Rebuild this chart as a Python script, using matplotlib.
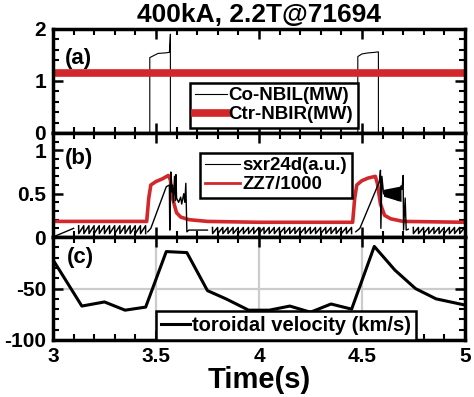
import matplotlib
matplotlib.use("Agg")
import matplotlib.pyplot as plt
from matplotlib.ticker import MultipleLocator

plt.rcParams['font.family'] = ['Liberation Sans', 'DejaVu Sans']
plt.rcParams['font.weight'] = 'bold'

RED = '#d3282b'

# (a) beam powers (MW)
nbil_t = [3.0, 3.47, 3.47, 3.49, 3.51, 3.545, 3.565, 3.57, 3.57, 4.48, 4.48, 4.50, 4.53, 4.56, 4.58, 4.58, 5.0]
nbil_p = [0, 0, 1.45, 1.49, 1.53, 1.54, 1.55, 1.90, 0, 0, 1.47, 1.52, 1.54, 1.55, 1.56, 0, 0]
nbir_t = [3.0, 5.0]
nbir_p = [1.15, 1.15]

# (b) ZZ7/1000
zz7_t = [3.0, 3.455, 3.465, 3.475, 3.50, 3.53, 3.56, 3.57, 3.58, 3.60, 3.62, 3.66, 3.75, 4.0, 4.2,
         4.455, 4.465, 4.475, 4.50, 4.53, 4.565, 4.575, 4.59, 4.61, 4.64, 4.70, 5.0]
zz7_v = [0.18, 0.18, 0.45, 0.60, 0.64, 0.67, 0.71, 0.66, 0.45, 0.28, 0.23, 0.20, 0.18, 0.17, 0.17,
         0.17, 0.45, 0.60, 0.65, 0.68, 0.70, 0.62, 0.38, 0.25, 0.21, 0.18, 0.17]

# (b) sxr24d, pulse segments
sxr_start_t = [3.0, 3.04, 3.08, 3.10]
sxr_start_v = [0.0, 0.04, 0.08, 0.10]
sxr_p1_t = [3.46, 3.475, 3.55, 3.565, 3.567, 3.572, 3.576, 3.58, 3.585, 3.59, 3.595, 3.597, 3.60,
            3.61, 3.62, 3.625, 3.635, 3.64, 3.645, 3.65, 3.66, 3.75]
sxr_p1_v = [0.06, 0.10, 0.58, 0.60, 0.08, 0.75, 0.52, 0.60, 0.40, 0.70, 0.42, 0.72, 0.45,
            0.40, 0.46, 0.38, 0.50, 0.40, 0.62, 0.06, 0.08, 0.08]
sxr_p2_t = [4.47, 4.49, 4.585, 4.59, 4.592, 4.597, 4.605, 4.62, 4.64, 4.66, 4.68, 4.69,
            4.695, 4.70, 4.702, 4.71, 4.715, 4.725]
sxr_p2_v = [0.06, 0.10, 0.64, 0.77, 0.10, 0.70, 0.50, 0.47, 0.46, 0.44, 0.42, 0.59,
            0.55, 0.71, 0.08, 0.45, 0.08, 0.09]
wedge_t = [4.605, 4.69]
wedge_lo = [0.47, 0.41]
wedge_hi = [0.55, 0.59]

# sawtooth crash times on sxr baseline
teeth1_t = [3.125, 3.15, 3.175, 3.20, 3.225, 3.25, 3.275, 3.30, 3.325, 3.35, 3.375, 3.40, 3.425, 3.45]
teeth2_t = [3.775, 3.80, 3.825, 3.85, 3.875, 3.90, 3.925, 3.95, 3.975, 4.00, 4.025, 4.05, 4.075,
            4.10, 4.125, 4.15, 4.175, 4.20, 4.225, 4.25, 4.275, 4.30, 4.325, 4.35, 4.375, 4.40,
            4.425, 4.45]
teeth3_t = [4.75, 4.775, 4.80, 4.825, 4.85, 4.875, 4.90, 4.925, 4.95, 4.975, 5.0]
teeth1_hi, teeth1_lo = 0.13, 0.04
teeth2_hi, teeth2_lo = 0.11, 0.04
teeth3_hi, teeth3_lo = 0.11, 0.04

# (c) toroidal velocity (km/s)
vt_t = [3.0, 3.14, 3.25, 3.35, 3.45, 3.55, 3.65, 3.75, 3.84, 3.95, 4.05, 4.15, 4.25, 4.35, 4.45,
        4.56, 4.66, 4.76, 4.86, 5.0]
vt_v = [-22, -67, -63, -71, -68, -14, -15, -52, -60, -71, -71, -67, -73, -65, -70,
        -9, -32, -50, -60, -66]


def teeth_trace(times, hi, lo):
    t, v = [], []
    for c in times:
        t += [c - 0.0005, c]
        v += [hi, lo]
    return t, v


def style_axes(ax):
    for s in ax.spines.values():
        s.set_linewidth(2.5)
    ax.xaxis.set_major_locator(MultipleLocator(0.5))
    ax.xaxis.set_minor_locator(MultipleLocator(0.1))
    ax.tick_params(which='both', direction='in', top=True, right=True, labelsize=15)
    ax.tick_params(which='major', length=7, width=1.8, pad=5)
    ax.tick_params(which='minor', length=4.5, width=1.5)
    ax.set_xlim(3, 5)


fig = plt.figure(figsize=(4.74, 3.97), dpi=100)
L, W = 0.1118, 0.869
ax_a = fig.add_axes([L, 0.665, W, 0.262])
ax_b = fig.add_axes([L, 0.403, W, 0.262])
ax_c = fig.add_axes([L, 0.1436, W, 0.259])

leg_kw = dict(loc='lower left', borderaxespad=0, fancybox=False, framealpha=1,
              edgecolor='black', handletextpad=0.1, borderpad=0.25, labelspacing=0.1)

# (a)
ax_a.plot(nbil_t, nbil_p, color='black', lw=0.8, label='Co-NBIL(MW)')
ax_a.plot(nbir_t, nbir_p, color=RED, lw=5.5, label='Ctr-NBIR(MW)')
style_axes(ax_a)
ax_a.set_ylim(0, 2)
ax_a.set_yticks([0, 1, 2])
ax_a.yaxis.set_minor_locator(MultipleLocator(0.2))
ax_a.tick_params(labelbottom=False)
ax_a.text(0.03, 0.72, '(a)', transform=ax_a.transAxes, fontsize=16, va='center')
lg = ax_a.legend(bbox_to_anchor=(0.333, 0.048), prop={'weight': 'bold', 'size': 13.5},
                 handlelength=1.7, **leg_kw)
lg.get_frame().set_linewidth(1.8)
ax_a.set_title('400kA, 2.2T@71694', fontsize=19, fontweight='bold', pad=5)

# (b)
ax_b.plot(zz7_t, zz7_v, color=RED, lw=2.6, label='ZZ7/1000', zorder=2)
blk = dict(color='black', lw=1.0, zorder=3)
ax_b.plot(sxr_start_t, sxr_start_v, **blk)
for tt, hi, lo in [(teeth1_t, teeth1_hi, teeth1_lo), (teeth2_t, teeth2_hi, teeth2_lo),
                   (teeth3_t, teeth3_hi, teeth3_lo)]:
    tx, vx = teeth_trace(tt, hi, lo)
    ax_b.plot(tx, vx, color='black', lw=1.1, zorder=3)
ax_b.plot(sxr_p1_t, sxr_p1_v, **blk)
ax_b.plot(sxr_p2_t, sxr_p2_v, **blk)
ax_b.fill_between(wedge_t, wedge_lo, wedge_hi, color='black', lw=0, zorder=3)
style_axes(ax_b)
ax_b.set_ylim(0, 1.2)
ax_b.set_yticks([0, 0.5, 1], labels=['0', '0.5', '1'])
ax_b.yaxis.set_minor_locator(MultipleLocator(0.1))
ax_b.tick_params(labelbottom=False)
ax_b.text(0.03, 0.75, '(b)', transform=ax_b.transAxes, fontsize=16, va='center')
h_sxr, = ax_b.plot([], [], color='black', lw=0.8)
h_zz, = ax_b.plot([], [], color=RED, lw=2.0)
lg = ax_b.legend([h_sxr, h_zz], ['sxr24d(a.u.)', 'ZZ7/1000'], bbox_to_anchor=(0.357, 0.375),
                 prop={'weight': 'bold', 'size': 13.5}, handlelength=1.9, **leg_kw)
lg.get_frame().set_linewidth(1.8)

# (c)
ax_c.plot(vt_t, vt_v, color='black', lw=2.2, label='toroidal velocity (km/s)')
style_axes(ax_c)
ax_c.set_ylim(-100, 0)
ax_c.set_yticks([-100, -50, 0], labels=['-100', '-50', ''])
ax_c.yaxis.set_minor_locator(MultipleLocator(10))
ax_c.set_xticks([3, 3.5, 4, 4.5, 5], labels=['3', '3.5', '4', '4.5', '5'])
ax_c.grid(True, which='major', color='#cccccc', lw=1.6)
ax_c.set_axisbelow(True)
ax_c.text(0.034, 0.80, '(c)', transform=ax_c.transAxes, fontsize=16, va='center')
lg = ax_c.legend(bbox_to_anchor=(0.25, 0.0), prop={'weight': 'bold', 'size': 14.5},
                 handlelength=1.45, **leg_kw)
lg.get_frame().set_linewidth(1.8)
ax_c.set_xlabel('Time(s)', fontsize=21, fontweight='bold', labelpad=0)

fig.savefig('out.png', dpi=100)
